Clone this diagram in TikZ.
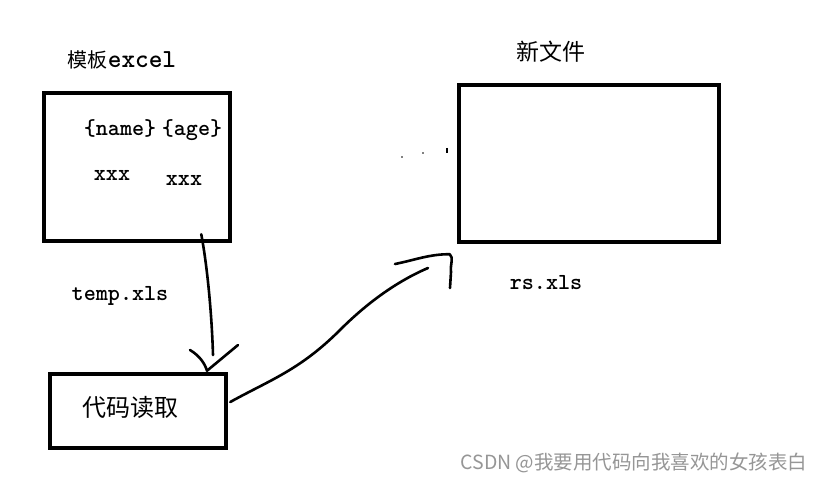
\documentclass[tikz,border=0pt]{standalone}
\usepackage{fontspec}
\newfontfamily\cjk{Noto Sans CJK SC}
\usetikzlibrary{positioning,calc}
\definecolor{mark}{RGB}{150,150,150}
\tikzset{
  sheet/.style={draw=black,line width=4.5pt,inner sep=0pt},
  txt/.style={font=\ttfamily\fontsize{23}{24}\selectfont\bfseries,inner sep=0pt},
  head/.style={font=\cjk\fontsize{#1}{#1}\selectfont,inner sep=0pt},
  head/.default=23,
  pen/.style={line width=2.6pt,line cap=round,line join=round},
  stamp/.style={font=\cjk\fontsize{19.5}{19.5}\selectfont,text=mark,inner sep=0pt},
}
\begin{document}
\begin{tikzpicture}[x=1pt,y=-1pt]
  \useasboundingbox[fill=white] (0,0) rectangle (822,481);
  % boxes
  \node[sheet,minimum width=186pt,minimum height=148pt] (tmpl) at (137,167) {};
  \node[sheet,minimum width=260pt,minimum height=157pt] (newf) at (589,163.5) {};
  \node[sheet,minimum width=176pt,minimum height=74pt] (code) at (138,411) {};
  % texts
  \node[head=24] (ctxt) at (130,407) {代码读取};
  \node[head=20] (ttl) at (122,60) {模板{\ttfamily\bfseries\fontsize{26}{26}\selectfont excel}};
  \node[head=23] (nttl) at (551,52) {新文件};
  \node[txt] (name) at (120,128) {\{name\}};
  \node[txt] (age) at (192,130) {\{age\}};
  \node[txt] (x1) at (112,175) {xxx};
  \node[txt] (x2) at (184,180) {xxx};
  \node[txt] (tname) at (120,296) {temp.xls};
  \node[txt] (rname) at (546,283) {rs.xls};
  \node[stamp] (csdn) at (634,463) {CSDN @我要用代码向我喜欢的女孩表白};
  % arrow: template -> code
  \coordinate (a1) at ($(tmpl.south east)+(-31,-9)$);
  \coordinate (t1) at ($(code.north)+(69,-1)$);
  \draw[pen] (a1) .. controls (208,270) and (212,320) .. (213,355);
  \draw[pen] (190,350) .. controls (200,356) and (205,364) .. (t1);
  \draw[pen] (238,345) -- (t1);
  % arrow: code -> new file
  \coordinate (a2) at ($(code.east)+(2,-9)$);
  \coordinate (t2) at ($(newf.south west)+(-7,10)$);
  \draw[pen] (a2) .. controls (270,380) and (300,370) .. (340,330)
    .. controls (370,300) and (400,280) .. (428,268);
  \draw[pen] (395,264) .. controls (415,260) and (430,254) .. (t2)
    .. controls (454,258) and (450,264) .. (451,272) -- (450,288);
  % stray specks
  \fill (402,157) circle (0.8);
  \fill (423,153) circle (0.8);
  \draw[line width=1.6pt] (447,148) -- (447,153);
\end{tikzpicture}
\end{document}
